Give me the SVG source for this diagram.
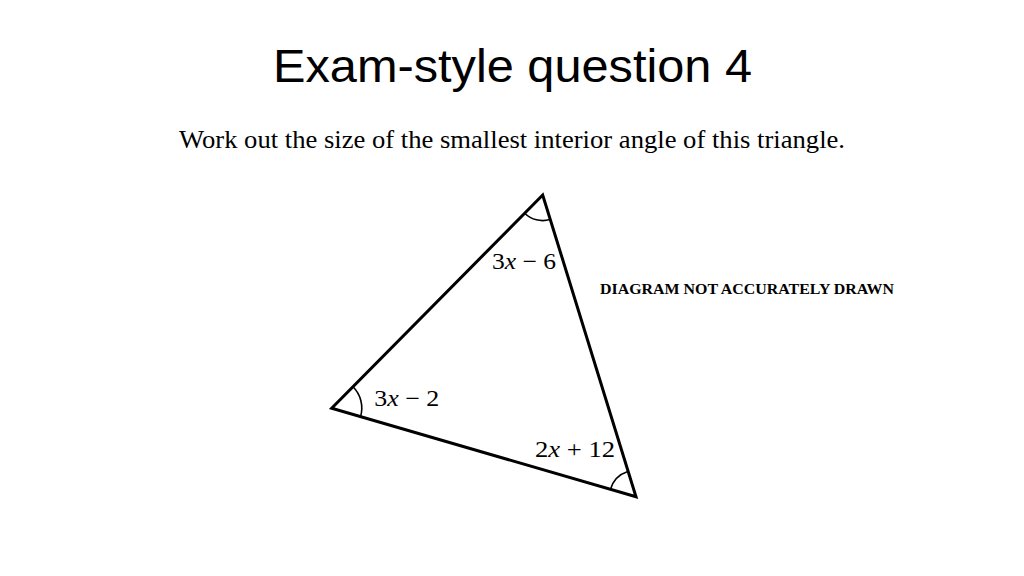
<svg xmlns="http://www.w3.org/2000/svg" width="1024" height="576" viewBox="0 0 1024 576">
<style>
.title{font-family:"Liberation Sans",Arial,sans-serif;font-size:47px;fill:#000}
.sub{font-family:"Liberation Serif","Times New Roman",serif;font-size:25px;fill:#000}
.lbl{font-family:"Liberation Serif","Times New Roman",serif;font-size:23px;fill:#000}
.note{font-family:"Liberation Serif","Times New Roman",serif;font-size:15.5px;font-weight:bold;fill:#000}
.edge{fill:none;stroke:#000;stroke-width:3;stroke-linejoin:miter}
.arc{fill:none;stroke:#000;stroke-width:1.6}
</style>
<rect width="1024" height="576" fill="#fff"/>
<text class="title" x="273" y="82" textLength="479" lengthAdjust="spacingAndGlyphs">Exam-style question 4</text>
<text class="sub" x="179" y="148" textLength="666" lengthAdjust="spacingAndGlyphs">Work out the size of the smallest interior angle of this triangle.</text>
<g id="triangle">
<polygon class="edge" points="542.7,195 331.7,408.3 636,496.7"/>
</g>
<g id="angle-top">
<path class="arc" d="M524.7,213.2 A25.5,25.5 0 0 0 550,219.5"/>
<text class="lbl" x="492" y="268.5" textLength="64" lengthAdjust="spacingAndGlyphs">3<tspan font-style="italic">x</tspan> − 6</text>
</g>
<g id="angle-left">
<path class="arc" d="M353,386.8 A30,30 0 0 1 360.5,416.7"/>
<text class="lbl" x="374.3" y="405.7" textLength="65" lengthAdjust="spacingAndGlyphs">3<tspan font-style="italic">x</tspan> − 2</text>
</g>
<g id="angle-right">
<path class="arc" d="M610.5,489.3 A26.5,26.5 0 0 1 627.8,471.5"/>
<text class="lbl" x="535" y="457.3" textLength="80" lengthAdjust="spacingAndGlyphs">2<tspan font-style="italic">x</tspan> + 12</text>
</g>
<text class="note" x="600" y="294" textLength="294" lengthAdjust="spacingAndGlyphs">DIAGRAM NOT ACCURATELY DRAWN</text>
</svg>
